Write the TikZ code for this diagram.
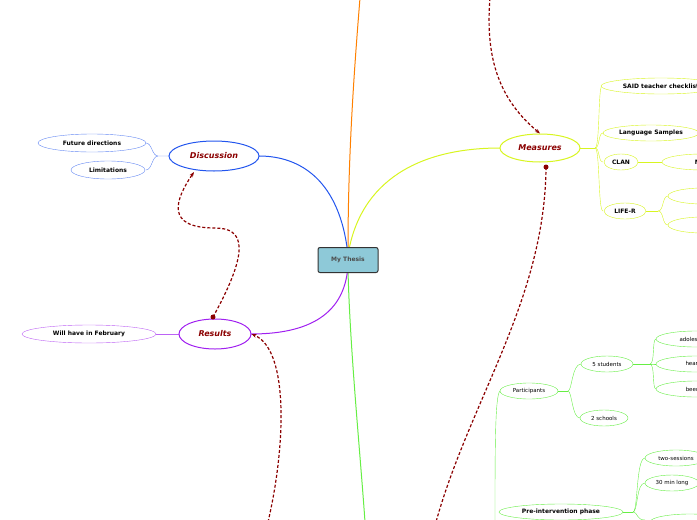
\documentclass[tikz,border=0pt]{standalone}
\usepackage{fontspec}
\setmainfont{DejaVu Sans}
\usetikzlibrary{shapes.geometric,arrows.meta}
\definecolor{dred}{HTML}{8B0000}
\definecolor{yg}{HTML}{D8F520}
\definecolor{gr}{HTML}{66EE44}
\definecolor{pu}{HTML}{A020F0}
\definecolor{bl}{HTML}{2255EE}
\tikzset{
 x=1pt,y=-1pt,
 main/.style={ellipse,draw,line width=1pt,fill=white,font=\fontsize{8}{9}\selectfont\bfseries\itshape\color{dred},inner sep=0pt},
 sub/.style={ellipse,draw,line width=0.4pt,fill=white,font=\fontsize{6}{7}\selectfont\bfseries,inner sep=0pt},
 leaf/.style={ellipse,draw,line width=0.4pt,fill=white,font=\fontsize{5.5}{6.5}\selectfont,inner sep=0pt},
 rel/.style={dred,line width=1.2pt,dash pattern=on 3pt off 2pt},
}
\begin{document}
\begin{tikzpicture}
\useasboundingbox (0,0) rectangle (697,520);
\clip (0,0) rectangle (697,520);
\coordinate (top) at (360,-2);
\coordinate (bot) at (365,522);
\coordinate (gbot) at (495,522);
\coordinate (r1) at (490,-2);
\coordinate (r2) at (436,522);
\coordinate (r3) at (268,522);
% branches
\draw[orange,line width=1pt] (348,250) .. controls (348,150) and (355,60) .. (top);
\draw[gr,line width=1pt] (348,270) .. controls (350,350) and (360,450) .. (bot);
\draw[bl,line width=1pt] (348,255) .. controls (340,180) and (300,156) .. (259,156);
\draw[pu,line width=1pt] (348,265) .. controls (345,320) and (300,334) .. (251,334);
\draw[yg,line width=1pt] (348,255) .. controls (360,180) and (420,148) .. (500,148);
% sub branches
\draw[bl!70] (169,156) -- (158,156) .. controls (152,156) and (152,143) .. (146,143);
\draw[bl!70] (158,156) .. controls (152,156) and (152,170) .. (146,170);
\draw[pu!70] (179,334) -- (156,334);
\draw[yg] (580,148) -- (595,148);
\foreach \y/\x in {86/602,133/603,162/603,211/603}
 \draw[yg] (595,148) .. controls (600,148) and (598,\y) .. (\x,\y);
\draw[yg] (638,162) -- (662,162);
\draw[yg,line width=1pt] (646,211) -- (658,211);
\draw[yg] (658,211) .. controls (664,211) and (662,196) .. (668,196);
\draw[yg] (658,211) .. controls (664,211) and (662,225) .. (668,225);
\draw[gr] (gbot) .. controls (495,450) and (495,395) .. (500,391);
\draw[gr] (558,391) -- (568,391);
\draw[gr] (568,391) .. controls (572,391) and (572,364) .. (581,364);
\draw[gr] (568,391) .. controls (572,391) and (572,418) .. (580,418);
\draw[gr,line width=1pt] (633,364) -- (650,364);
\foreach \y in {339,364,389}
 \draw[gr] (650,364) .. controls (655,364) and (652,\y) .. (656,\y);
\draw[gr,line width=1pt] (623,512) -- (633,512);
\foreach \y in {458,483,520}
 \draw[gr] (633,512) .. controls (638,512) and (636,\y) .. (645,\y);
% nodes
\node[draw=black!80,line width=1pt,fill={rgb,255:red,142;green,201;blue,216},rounded corners=2pt,minimum width=60pt,minimum height=25pt,font=\fontsize{6}{7}\selectfont\bfseries,text=black!70] (th) at (348,260) {My Thesis};
\node[main,draw=bl,minimum width=90pt,minimum height=30pt] (disc) at (214,156) {Discussion};
\node[sub,draw=bl!70,minimum width=108pt,minimum height=18pt] (fd) at (92,143) {Future directions};
\node[sub,draw=bl!70,minimum width=74pt,minimum height=18pt] (lim) at (108,170) {Limitations};
\node[main,draw=pu,minimum width=72pt,minimum height=30pt] (res) at (215,334) {Results};
\node[sub,draw=pu!70,minimum width=134pt,minimum height=18pt] (feb) at (89,334) {Will have in February};
\node[main,draw=yg,minimum width=80pt,minimum height=28pt] (meas) at (540,148) {Measures};
\node[sub,draw=yg,minimum width=120pt,minimum height=16pt] (said) at (661,86) {SAID teacher checklist};
\node[sub,draw=yg,minimum width=96pt,minimum height=16pt] (ls) at (651,133) {Language Samples};
\node[sub,draw=yg,minimum width=34pt,minimum height=16pt] (clan) at (621,162) {CLAN};
\node[sub,draw=yg,minimum width=80pt,minimum height=16pt] (mlu) at (702,162) {MLU};
\node[sub,draw=yg,minimum width=42pt,minimum height=16pt] (life) at (625,211) {LIFE-R};
\node[sub,draw=yg,minimum width=70pt,minimum height=16pt] (l1) at (703,196) {};
\node[sub,draw=yg,minimum width=70pt,minimum height=16pt] (l2) at (703,225) {};
\node[leaf,draw=gr,minimum width=58pt,minimum height=16pt] (part) at (529,391) {Participants};
\node[leaf,draw=gr,minimum width=52pt,minimum height=16pt] (stu) at (607,364) {5 students};
\node[leaf,draw=gr,minimum width=48pt,minimum height=16pt] (sch) at (604,418) {2 schools};
\node[leaf,draw=gr,minimum width=80pt,minimum height=16pt] (a1) at (696,339) {adolescents};
\node[leaf,draw=gr,minimum width=80pt,minimum height=16pt] (a2) at (696,364) {hearing};
\node[leaf,draw=gr,minimum width=80pt,minimum height=16pt] (a3) at (696,389) {been in};
\node[sub,draw=gr,minimum width=124pt,minimum height=16pt] (pre) at (561,512) {Pre-intervention phase};
\node[leaf,draw=gr,minimum width=62pt,minimum height=16pt] (ts) at (676,458) {two-sessions};
\node[leaf,draw=gr,minimum width=54pt,minimum height=16pt] (ml) at (672,483) {30 min long};
\node[leaf,draw=gr,minimum width=80pt,minimum height=16pt] (b3) at (690,522) {};
% relationships
\draw[rel,-{Stealth[length=5pt]}] (r1) .. controls (485,60) and (500,100) .. (meas.north);
\fill[dred] (546,167) circle (2.5pt);
\draw[rel] (546,167) .. controls (545,300) and (470,400) .. (r2);
\fill[dred] (213,317) circle (2.5pt);
\draw[rel,-{Stealth[length=5pt]}] (213,317) .. controls (250,250) and (245,228) .. (215,228) .. controls (165,228) and (175,200) .. (194,172);
\draw[rel,-{Stealth[length=5pt]}] (r3) .. controls (285,450) and (290,350) .. (res.east);
\end{tikzpicture}
\end{document}
